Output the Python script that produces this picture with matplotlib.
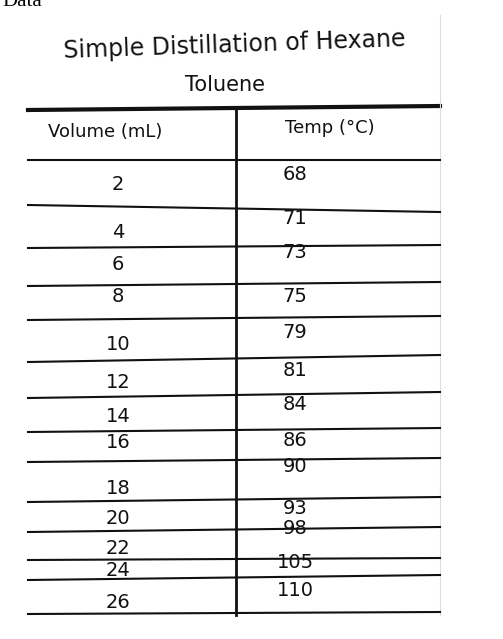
import matplotlib.pyplot as plt

volume = [2, 4, 6, 8, 10, 12, 14, 16, 18, 20, 22, 24, 26]
temp = [68, 71, 73, 75, 79, 81, 84, 86, 90, 93, 98, 105, 110]
title1 = "Simple Distillation of Hexane"
title2 = "Toluene"
col_labels = ["Volume (mL)", "Temp (°C)"]

# row positions in pixels (handwritten, uneven)
vol_y = [185, 232, 264, 297, 345, 383, 417, 443, 488, 518, 548, 570, 603]
temp_y = [175, 218, 253, 297, 332, 370, 405, 440, 467, 508, 528, 563, 591]
rule_y = [(160, 160), (205, 212), (248, 245), (286, 282), (320, 316), (362, 355),
          (398, 392), (432, 428), (462, 458), (502, 497), (532, 527), (560, 558),
          (580, 575), (614, 612)]

fig = plt.figure(figsize=(5.03, 6.39), dpi=100)
ax = fig.add_axes([0, 0, 1, 1])
ax.set_xlim(0, 503)
ax.set_ylim(639, 0)
ax.axis('off')

ink = '#111111'
ax.text(2, 2, "Data", fontsize=15, family='Liberation Serif', va='center', ha='left')
ax.plot([28, 440], [110, 106], color=ink, lw=3)
ax.plot([236, 236], [110, 615], color=ink, lw=2)
ax.plot([440, 440], [15, 615], color='#dddddd', lw=0.8)
for y0, y1 in rule_y:
    ax.plot([28, 440], [y0, y1], color=ink, lw=1.5)

ax.text(235, 45, title1, fontsize=17, ha='center', va='center', color=ink, rotation=2)
ax.text(225, 85, title2, fontsize=15, ha='center', va='center', color=ink)
ax.text(105, 132, col_labels[0], fontsize=13, ha='center', va='center', color=ink)
ax.text(330, 128, col_labels[1], fontsize=13, ha='center', va='center', color=ink)

for v, y in zip(volume, vol_y):
    ax.text(118, y, str(v), fontsize=14, ha='center', va='center', color=ink)
for t, y in zip(temp, temp_y):
    ax.text(295, y, str(t), fontsize=14, ha='center', va='center', color=ink)

fig.savefig('out.png', dpi=100)
